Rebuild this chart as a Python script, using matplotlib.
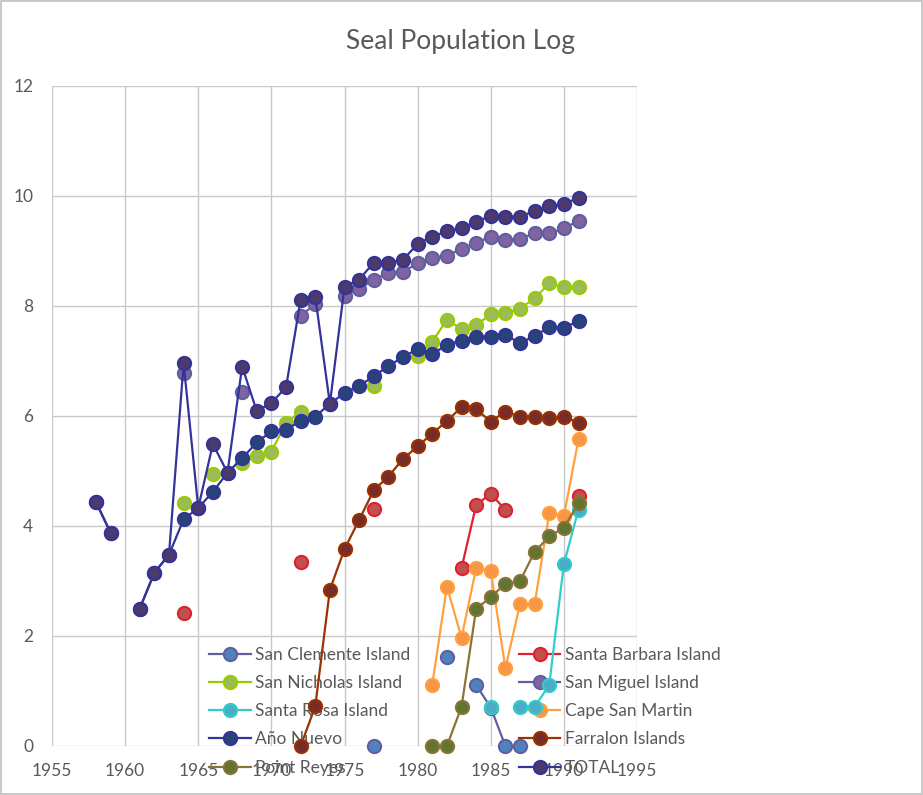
import numpy as np
import matplotlib
matplotlib.use("Agg")
import matplotlib.pyplot as plt
from matplotlib.patches import Rectangle

plt.rcParams['font.family'] = ['Lato', 'DejaVu Sans']

years = list(range(1958, 1992))
N = None
# 1958 .. 1991
san_clemente = [N,N,N,N,N,N,N,N,N,N,N,N,N,N,N,N,N,N,N,0.0,N,N,N,N,1.62,N,1.11,0.70,0.0,0.0,N,N,N,N]
santa_barbara = [N,N,N,N,N,N,2.41,N,N,N,N,N,N,N,3.35,N,N,N,N,4.31,N,N,N,N,N,3.23,4.38,4.59,4.29,N,N,N,N,4.55]
san_nicholas = [N,N,N,N,N,N,4.42,N,4.94,N,5.15,5.27,5.35,5.87,6.08,N,N,N,N,6.55,N,N,7.09,7.35,7.75,7.58,7.65,7.85,7.88,7.95,8.14,8.41,8.34,8.34]
san_miguel = [N,N,N,N,N,N,6.79,N,N,N,6.44,N,N,N,7.82,8.04,N,8.19,8.31,8.48,8.60,8.62,8.78,8.88,8.91,9.04,9.15,9.26,9.20,9.22,9.32,9.32,9.41,9.55]
santa_rosa = [N,N,N,N,N,N,N,N,N,N,N,N,N,N,N,N,N,N,N,N,N,N,N,N,N,N,N,0.71,N,0.71,0.71,1.11,3.31,4.30]
cape_san_martin = [N,N,N,N,N,N,N,N,N,N,N,N,N,N,N,N,N,N,N,N,N,N,N,1.11,2.90,1.97,3.23,3.19,1.41,2.58,2.58,4.23,4.18,5.58]
ano_nuevo = [4.44,3.88,N,2.50,3.15,3.48,4.12,4.33,4.62,4.97,5.23,5.52,5.72,5.75,5.91,5.99,6.22,6.42,6.55,6.72,6.91,7.07,7.22,7.12,7.30,7.37,7.44,7.44,7.48,7.32,7.46,7.61,7.60,7.73]
farralon = [N,N,N,N,N,N,N,N,N,N,N,N,N,N,0.0,0.72,2.84,3.58,4.11,4.65,4.90,5.22,5.45,5.68,5.91,6.16,6.12,5.90,6.08,5.99,5.99,5.96,5.99,5.88]
point_reyes = [N,N,N,N,N,N,N,N,N,N,N,N,N,N,N,N,N,N,N,N,N,N,N,0.0,0.0,0.71,2.49,2.71,2.95,3.00,3.53,3.81,3.97,4.41]
total = [4.44,3.88,N,2.50,3.15,3.48,6.96,4.33,5.49,4.97,6.90,6.09,6.24,6.52,8.11,8.17,6.22,8.35,8.48,8.79,8.79,8.84,9.13,9.26,9.36,9.42,9.53,9.64,9.61,9.62,9.73,9.81,9.85,9.97]

series = [
    ("San Clemente Island", san_clemente, "#5F5F9F", "#4F81BD"),
    ("Santa Barbara Island", santa_barbara, "#E02030", "#C0504D"),
    ("San Nicholas Island", san_nicholas, "#99CC00", "#9BBB59"),
    ("San Miguel Island", san_miguel, "#5F5F9F", "#8064A2"),
    ("Santa Rosa Island", santa_rosa, "#33CCCC", "#4BACC6"),
    ("Cape San Martin", cape_san_martin, "#FFA040", "#F79646"),
    ("Año Nuevo", ano_nuevo, "#333399", "#264478"),
    ("Farralon Islands", farralon, "#993300", "#772C2A"),
    ("Point Reyes", point_reyes, "#8B7337", "#5F7530"),
    ("TOTAL", total, "#333399", "#4B3A6B"),
]

fig = plt.figure(figsize=(9.23, 7.95), dpi=100)
ax = fig.add_axes([52/923, 1-746/795, (637-52)/923, (746-86)/795])

handles = {}
for i, (name, vals, lc, mc) in enumerate(series):
    y = np.array([np.nan if v is None else v for v in vals], dtype=float)
    ln, = ax.plot(years, y, color=lc, lw=1.6, marker='o', ms=9.5,
                  mfc=mc, mec=lc, mew=1.5, zorder=3+i, clip_on=False, label=name)
    handles[name] = ln

ax.set_xlim(1955, 1995)
ax.set_ylim(0, 12)
ax.set_xticks(range(1955, 1996, 5))
ax.set_yticks(range(0, 13, 2))
for s in ax.spines.values():
    s.set_visible(False)
ax.grid(True, color='#C8C8C8', lw=1)
ax.set_axisbelow(True)
ax.tick_params(length=0, labelsize=12.5, labelcolor='#595959')
ax.tick_params(axis='y', pad=13.5)
ax.tick_params(axis='x', pad=12)

fig.text(461/923, 1-41/795, "Seal Population Log", ha='center', va='center',
         fontsize=19, color='#595959')

order = ["San Clemente Island", "San Nicholas Island", "Santa Rosa Island", "Año Nuevo",
         "Point Reyes", "Santa Barbara Island", "San Miguel Island", "Cape San Martin",
         "Farralon Islands", "TOTAL"]
leg = ax.legend([handles[n] for n in order], order, ncol=2, frameon=False,
                loc='upper left', bbox_to_anchor=(209/923, 1-647/795),
                bbox_transform=fig.transFigure, fontsize=12.5,
                handlelength=2.4, handletextpad=0.25, columnspacing=6.25,
                labelspacing=0.70, borderaxespad=0, borderpad=0)
for t in leg.get_texts():
    t.set_color('#595959')
leg.set_zorder(1)

fig.patches.append(Rectangle((0.0008, 0.001), 0.9984, 0.998, transform=fig.transFigure,
                             fill=False, edgecolor='#BFBFBF', lw=1.2))

fig.savefig("out.png", dpi=100, facecolor='white')
